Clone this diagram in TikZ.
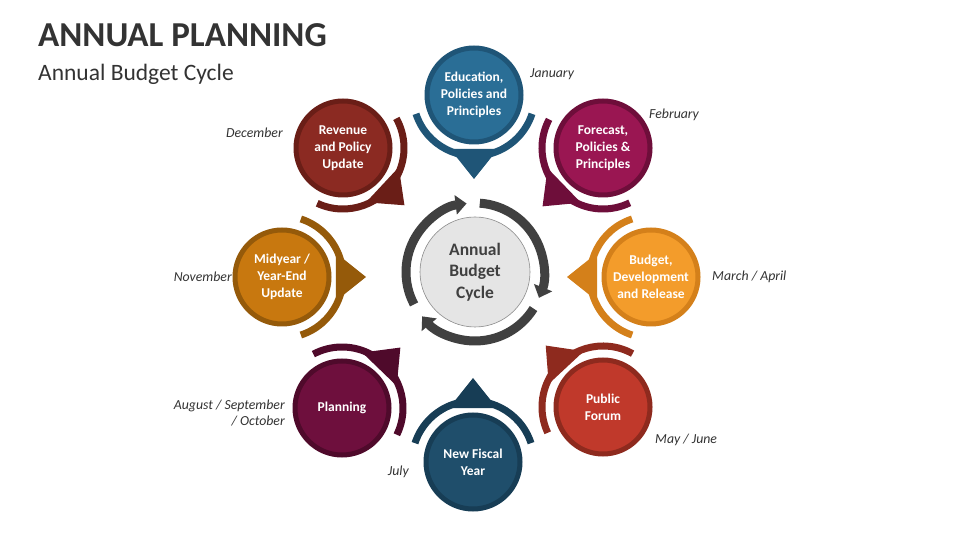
\documentclass[tikz,border=0pt]{standalone}
\usepackage{fontspec}
\setmainfont{Carlito}
\usetikzlibrary{arrows.meta,calc}
\definecolor{txt}{HTML}{333333}
\definecolor{ring}{HTML}{404040}
\tikzset{
  lbl/.style={font=\fontsize{13.8}{16}\selectfont\itshape, text=txt},
  bud/.style={circle, minimum size=94pt, inner sep=0pt, line width=5pt, align=center, text=white, font=\fontsize{13.5}{17}\selectfont\bfseries},
}
\newcommand{\budnode}[7]{%
  \definecolor{#1F}{HTML}{#5}\definecolor{#1D}{HTML}{#6}%
  \coordinate (#1c) at (#2,{540-#3});
  \fill[#1D] ($(#1c)+(#4:84)$) -- ($(#1c)+(#4+24:59)$) -- ($(#1c)+(#4-24:59)$) -- cycle;
  \draw[#1D, line width=7pt] ($(#1c)+(#4-72:61)$) arc[start angle=#4-72, end angle=#4+72, radius=61];
  \node[bud, fill=#1F, draw=#1D] (#1) at (#1c) {#7};
}
\begin{document}
\begin{tikzpicture}[x=1pt,y=1pt]
\useasboundingbox (0,0) rectangle (960,540);
\fill[white] (0,0) rectangle (960,540);
\node[anchor=west, inner sep=0pt, font=\fontsize{35}{38}\selectfont\bfseries, text=txt] (title) at (38,505) {ANNUAL PLANNING};
\node[anchor=west, inner sep=0pt, font=\fontsize{23.5}{26}\selectfont, text=txt] (sub) at (38,466) {Annual Budget Cycle};
% centre
\coordinate (cc) at (475,268);
\node[circle, minimum size=110pt, fill=black!10, draw=black!45, line width=0.6pt, text=ring, align=center, font=\fontsize{17.5}{21.5}\selectfont\bfseries] (centre) at (cc) {Annual\\Budget\\Cycle};
\tikzset{ringarr/.style={ring, line width=9pt, -{Triangle[length=11pt,width=19pt]}}}
\draw[ringarr] ($(cc)+(208:69)$) arc[start angle=208, end angle=97, radius=69];
\draw[ringarr] ($(cc)+(86:69)$) arc[start angle=86, end angle=-22, radius=69];
\draw[ringarr] ($(cc)+(-32:69)$) arc[start angle=-32, end angle=-140, radius=69];
% nodes
\budnode{edu}{474}{95}{-90}{2A6E96}{1F5577}{Education,\\Policies and\\Principles}
\budnode{fore}{603}{148}{224}{9A1652}{6E0E3A}{Forecast,\\Policies \&\\Principles}
\budnode{budg}{651}{277}{180}{F39C2B}{D4801A}{Budget,\\Development\\and Release}
\budnode{pub}{603}{407}{133}{C0392B}{8E2A1E}{Public\\Forum}
\budnode{nfy}{473}{462}{90}{1F4E6B}{173D55}{New Fiscal\\Year}
\budnode{plan}{342}{408}{46}{6E0F3D}{4F0A2B}{Planning}
\budnode{mid}{282}{277}{0}{C8780F}{955A0A}{Midyear /\\Year-End\\Update}
\budnode{rev}{343}{148}{-43}{8B2A22}{6A1E17}{Revenue\\and Policy\\Update}
% labels
\node[lbl, anchor=west, inner sep=0pt] (l1) at (530,{540-74}) {January};
\node[lbl, anchor=west, inner sep=0pt] (l2) at (649,{540-115}) {February};
\node[lbl, anchor=west, inner sep=0pt] (l3) at (712,{540-277}) {March / April};
\node[lbl, anchor=west, inner sep=0pt] (l4) at (655,{540-440}) {May / June};
\node[lbl, anchor=east, inner sep=0pt] (l5) at (409,{540-472}) {July};
\node[lbl, anchor=east, align=right, inner sep=0pt] (l6) at (285,{540-413}) {August / September\\/ October};
\node[lbl, anchor=east, inner sep=0pt] (l7) at (232,{540-277}) {November};
\node[lbl, anchor=east, inner sep=0pt] (l8) at (283,{540-133}) {December};
\end{tikzpicture}
\end{document}
